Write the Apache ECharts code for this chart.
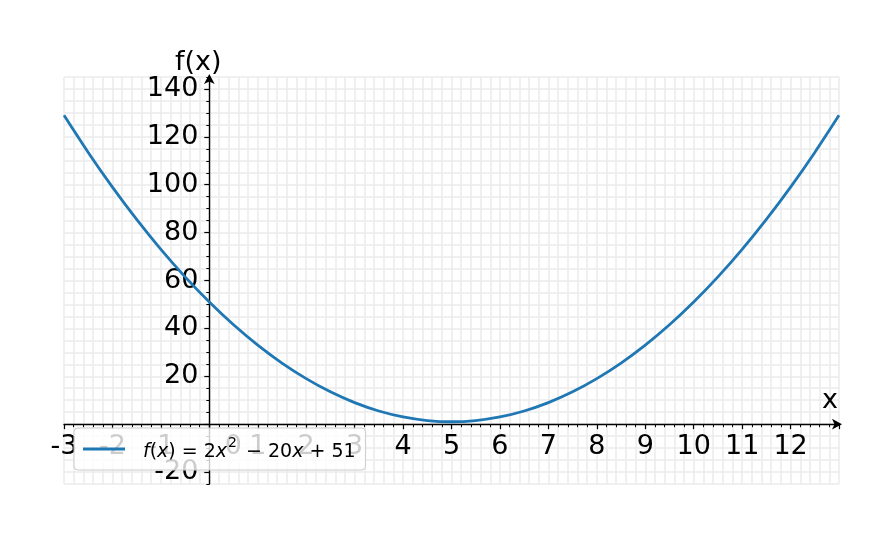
<!DOCTYPE html>
<html>
<head>
<meta charset="utf-8">
<script src="https://cdn.jsdelivr.net/npm/echarts@6/dist/echarts.min.js"></script>
<style>
html,body{margin:0;padding:0;background:#fff;}
#chart{width:888px;height:539px;}
</style>
</head>
<body>
<div id="chart"></div>
<script>
// ---- data ----
var xValues = [-3,-2.5,-2,-1.5,-1,-0.5,0,0.5,1,1.5,2,2.5,3,3.5,4,4.5,5,5.5,6,6.5,7,7.5,8,8.5,9,9.5,10,10.5,11,11.5,12,12.5,13];
var yValues = [129,113.5,99,85.5,73,61.5,51,41.5,33,25.5,19,13.5,9,5.5,3,1.5,1,1.5,3,5.5,9,13.5,19,25.5,33,41.5,51,61.5,73,85.5,99,113.5,129];
var seriesName = 'f(x) = 2x² − 20x + 51';
var xTickLabels = ['-3','-2','-1','0','1','2','3','4','5','6','7','8','9','10','11','12'];
var yTickLabels = ['-20','20','40','60','80','100','120','140'];
var xRange = [-3, 13];
var yRange = [-25, 145];
var yLabelRange = [-20, 140];

// ---- layout ----
var FONT = 'DejaVu Sans';
var W = 888, H = 539;
var gTop = 77, gBottom = 55, gLeft = 64, gRight = 49;
var pxPerUnitY = (H - gTop - gBottom) / (yRange[1] - yRange[0]);
var pxPerUnitX = (W - gLeft - gRight) / (xRange[1] - xRange[0]);
var g2Top = gTop + (yRange[1] - yLabelRange[1]) * pxPerUnitY;
var g2Bottom = gBottom + (yLabelRange[0] - yRange[0]) * pxPerUnitY;
// axes cross at (0,0): shift them inward from the grid edges
var xAxisOffset = -(0 - yRange[0]) * pxPerUnitY;
var yAxisOffset = -(0 - xRange[0]) * pxPerUnitX;
var gridColor = '#ebebeb';

var points = xValues.map(function (x, i) { return [x, yValues[i]]; });

var chart = echarts.init(document.getElementById('chart'), null, {renderer: 'canvas'});
chart.setOption({
  animation: false,
  backgroundColor: '#ffffff',
  textStyle: {fontFamily: FONT},
  grid: [
    {left: gLeft, right: gRight, top: gTop, bottom: gBottom, containLabel: false},
    {left: gLeft, right: gRight, top: g2Top, bottom: g2Bottom, containLabel: false}
  ],
  legend: {
    left: 74, top: 428,
    padding: [8, 10, 8, 9],
    backgroundColor: 'rgba(255,255,255,0.8)',
    borderColor: '#cccccc', borderWidth: 1, borderRadius: 4,
    itemWidth: 42, itemHeight: 14,
    data: [{name: seriesName, icon: 'path://M0,5.6 L42,5.6 L42,8.4 L0,8.4 Z'}],
    formatter: function () {
      return '{i|f}{n|(}{i|x}{n|) = 2}{i|x}{s|2}{n| − 20}{i|x}{n| + 51}';
    },
    textStyle: {
      color: '#000', fontFamily: FONT, fontSize: 19, lineHeight: 26,
      padding: [0, 0, 0, 13],
      rich: {
        i: {fontStyle: 'italic', fontSize: 19, fontFamily: FONT, color: '#000', verticalAlign: 'bottom', lineHeight: 26},
        n: {fontSize: 19, fontFamily: FONT, color: '#000', verticalAlign: 'bottom', lineHeight: 26},
        s: {fontSize: 14, fontFamily: FONT, color: '#000', verticalAlign: 'top', lineHeight: 16, padding: [0, 3, 0, 1]}
      }
    }
  },
  xAxis: [
    {
      gridIndex: 0, type: 'value', min: xRange[0], max: xRange[1], interval: 1,
      position: 'bottom', offset: xAxisOffset,
      name: 'x', nameLocation: 'end', nameGap: -1,
      nameTextStyle: {fontSize: 27, fontFamily: FONT, color: '#000', align: 'right', verticalAlign: 'bottom', padding: [0, 0, 10, 0]},
      axisLine: {onZero: false, lineStyle: {color: '#000', width: 1.4}, symbol: ['none', 'arrow'], symbolSize: [8, 10], symbolOffset: [0, 3]},
      axisTick: {show: true, length: 5, lineStyle: {color: '#000', width: 1.2}},
      minorTick: {show: true, splitNumber: 5, length: 3, lineStyle: {color: '#000', width: 1}},
      splitLine: {show: true, lineStyle: {color: gridColor, width: 1.5}},
      minorSplitLine: {show: true, lineStyle: {color: gridColor, width: 1.5}},
      axisLabel: {
        show: true, fontSize: 27, fontFamily: FONT, color: '#000', margin: 9,
        formatter: function (v) {
          var s = String(v);
          if (xTickLabels.indexOf(s) < 0) return '';
          if (v === 0) return '{z|0}';
          return s;
        },
        rich: {z: {fontSize: 27, fontFamily: FONT, color: '#000', padding: [0, 0, 0, 48]}}
      }
    },
    {
      gridIndex: 1, type: 'value', min: xRange[0], max: xRange[1], interval: 1,
      axisLine: {show: false, onZero: false}, axisTick: {show: false}, axisLabel: {show: false}, splitLine: {show: false}
    }
  ],
  yAxis: [
    {
      gridIndex: 0, type: 'value', min: yRange[0], max: yRange[1], interval: 5,
      position: 'left', offset: yAxisOffset,
      name: 'f(x)', nameLocation: 'end', nameGap: 1,
      nameTextStyle: {fontSize: 27, fontFamily: FONT, color: '#000', padding: [0, 22, 0, 0]},
      axisLine: {onZero: false, lineStyle: {color: '#000', width: 1.4}, symbol: ['none', 'arrow'], symbolSize: [8, 10], symbolOffset: [0, 3]},
      axisTick: {show: true, length: 3, lineStyle: {color: '#000', width: 1}},
      splitLine: {show: true, lineStyle: {color: gridColor, width: 1.5}},
      axisLabel: {show: false}
    },
    {
      gridIndex: 1, type: 'value', min: yLabelRange[0], max: yLabelRange[1], interval: 20,
      position: 'left', offset: yAxisOffset,
      axisLine: {show: false, onZero: false},
      axisTick: {show: true, length: 5, lineStyle: {color: '#000', width: 1.2}},
      splitLine: {show: false},
      axisLabel: {
        show: true, fontSize: 27, fontFamily: FONT, color: '#000', margin: 11,
        formatter: function (v) {
          var s = String(v);
          return yTickLabels.indexOf(s) >= 0 ? s : '';
        }
      }
    }
  ],
  series: [
    {
      name: seriesName, type: 'line', xAxisIndex: 0, yAxisIndex: 0,
      data: points, smooth: 0.3, symbol: 'none', clip: true,
      lineStyle: {color: '#1f77b4', width: 2.8},
      itemStyle: {color: '#1f77b4'},
      z: 3
    }
  ]
});
</script>
</body>
</html>
